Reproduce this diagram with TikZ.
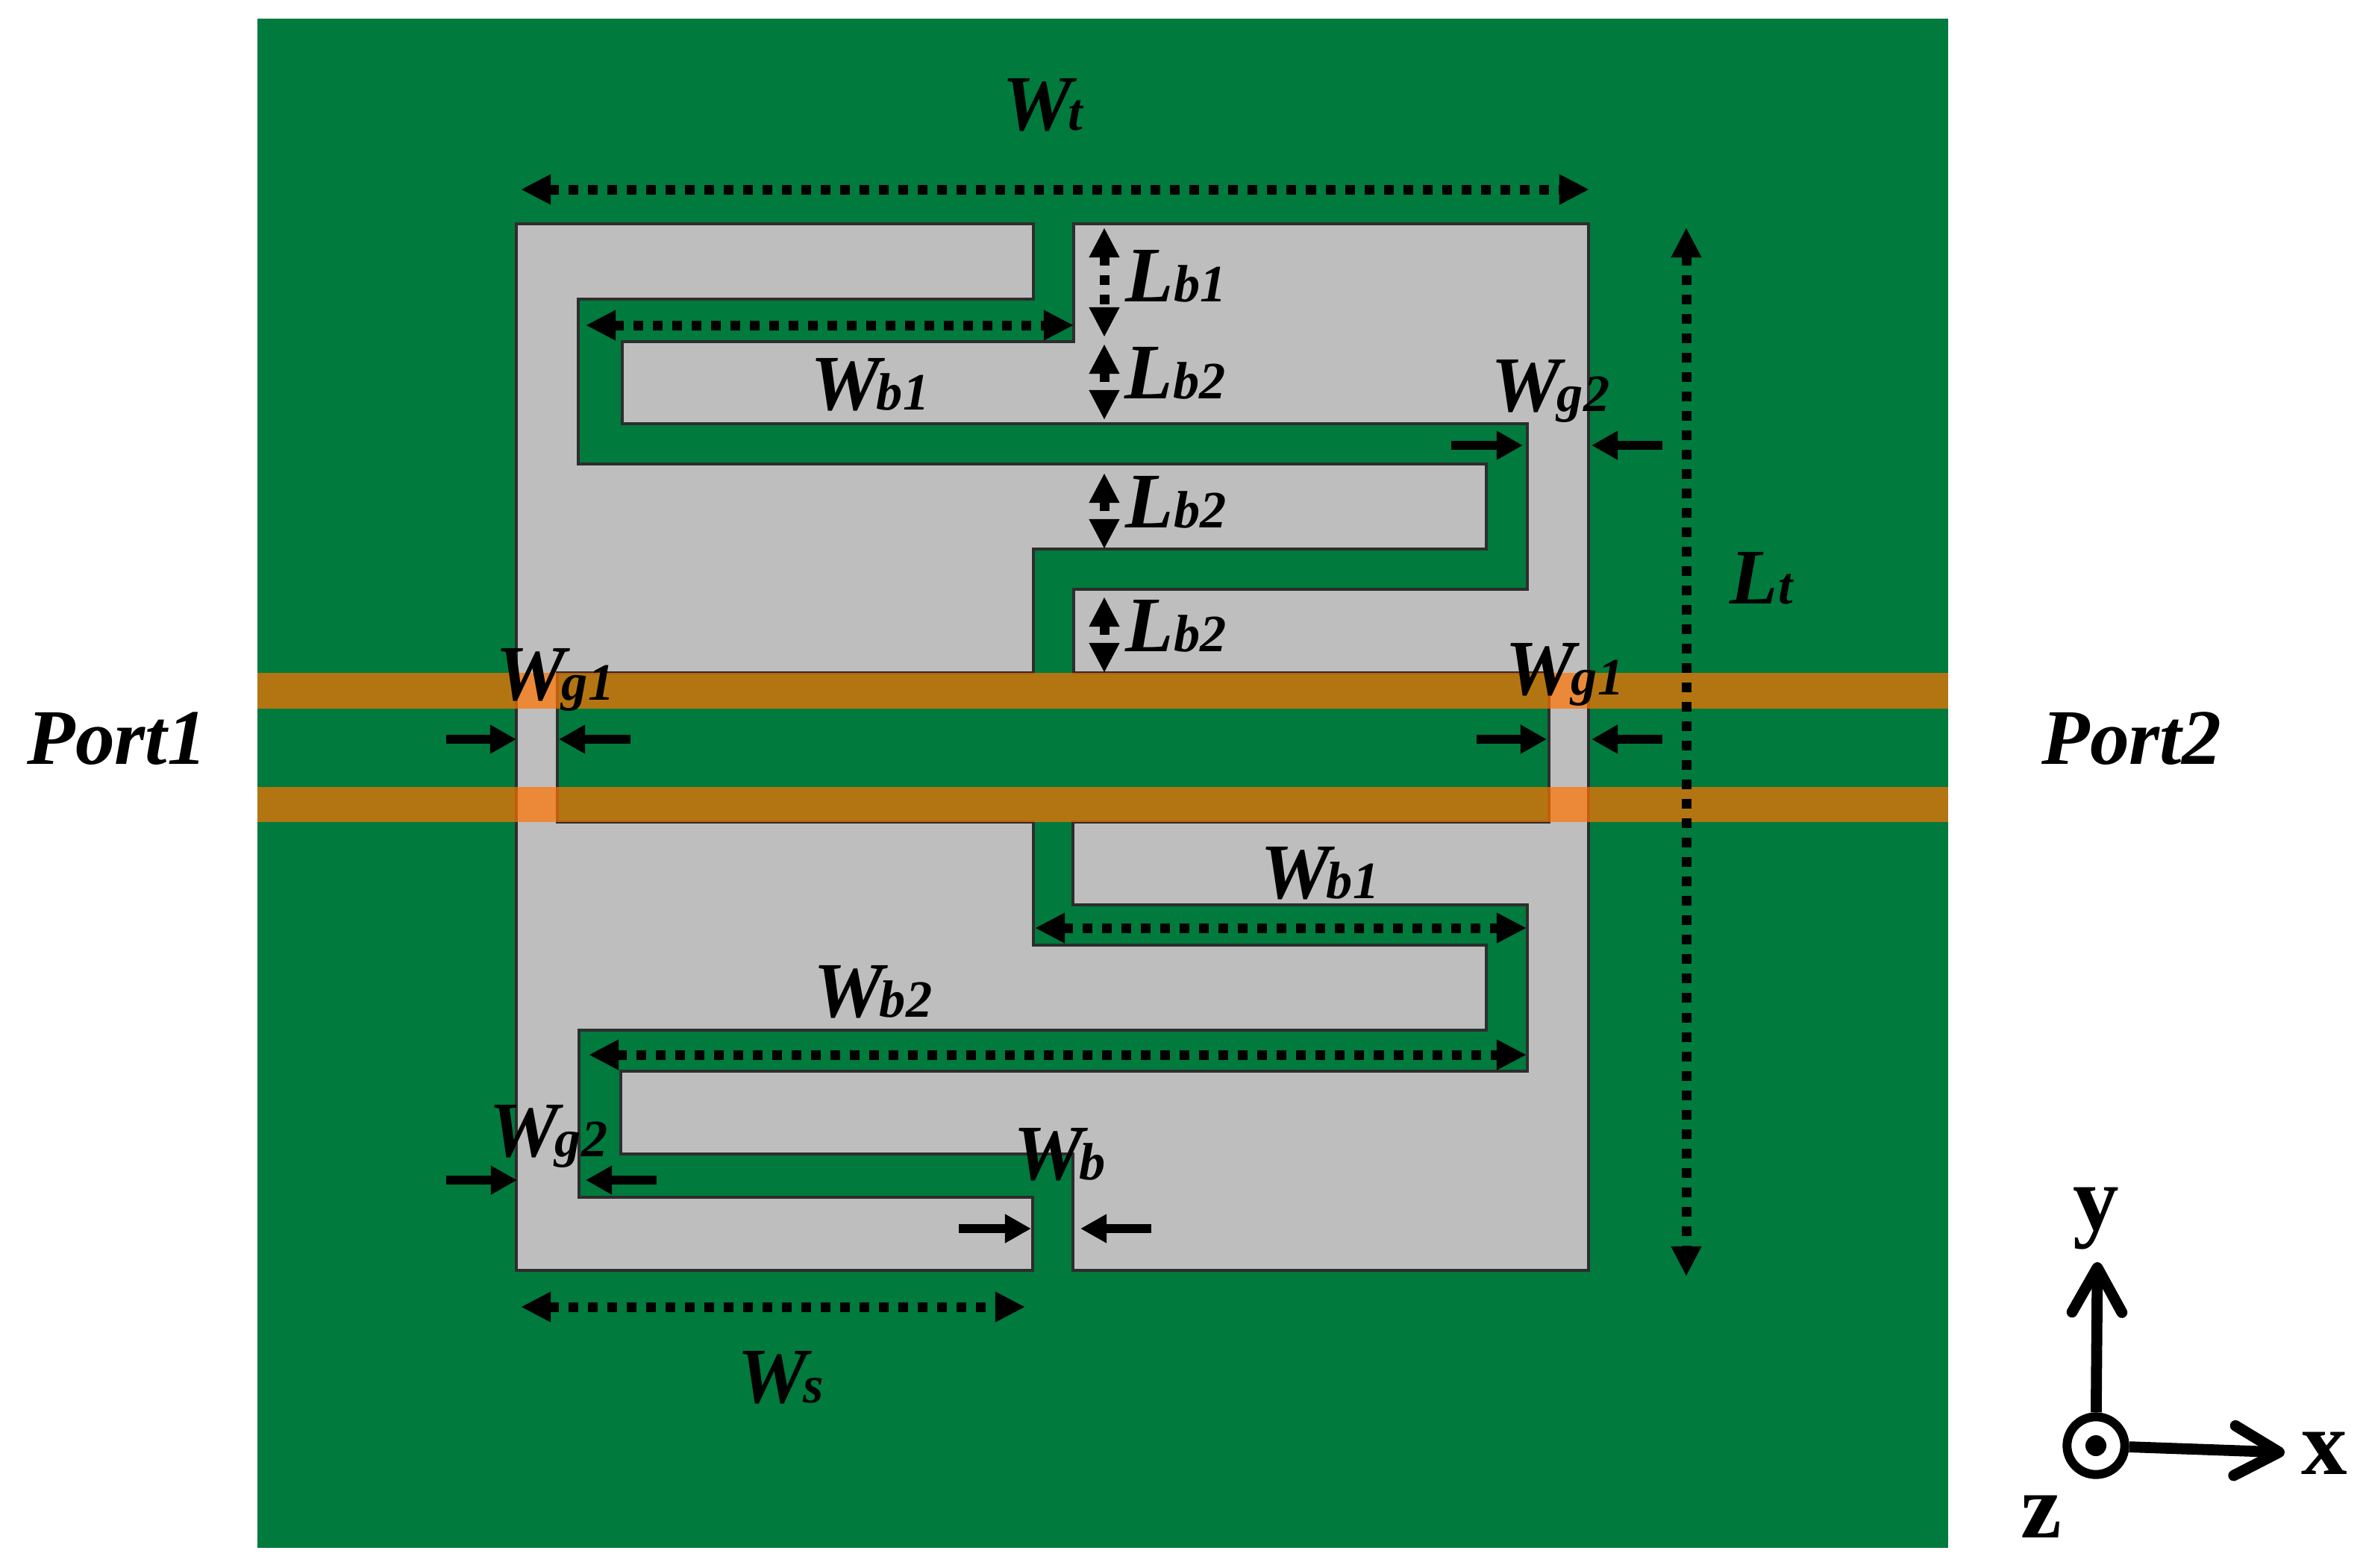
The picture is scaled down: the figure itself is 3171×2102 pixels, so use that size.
\documentclass[tikz,border=0pt]{standalone}
\usepackage{xcolor}
\usepackage{fontspec}
\setmainfont{Liberation Serif}
\usetikzlibrary{arrows.meta}
\definecolor{sub}{RGB}{0, 122, 61}
\definecolor{met}{RGB}{190, 190, 190}
\definecolor{edg}{RGB}{45, 45, 45}
\definecolor{lin}{RGB}{255, 115, 0}
\newcommand{\lab}[2]{#1{\fontsize{20}{24}\selectfont #2}}
\newcommand{\wid}{W\kern-1.6pt}
\tikzset{
  txt/.style={anchor=base west, inner sep=0pt, font=\bfseries\itshape\fontsize{30}{36}\selectfont},
  ax/.style={anchor=base, inner sep=0pt, font=\bfseries\fontsize{35}{42}\selectfont},
  metal/.style={fill=met, draw=edg, line width=1.1pt, line join=miter},
  dots/.style={line width=3.7pt, dash pattern=on 3.7pt off 3.7pt, {Triangle[length=11.4pt,width=10.8pt]}-{Triangle[length=11.4pt,width=10.8pt]}},
  push/.style={line width=3.2pt, -{Triangle[length=10pt,width=10.4pt]}},
  axline/.style={line width=4.2pt, -{Straight Barb[length=17pt,width=19pt,round]}}
}
\begin{document}
\begin{tikzpicture}[x=0.01cm, y=-0.01cm]
      \useasboundingbox (0, 0) rectangle (3171, 2102);
      \fill[color=sub] (345, 25) rectangle (2611, 2075);
      \draw[metal] (692, 300)--(1385, 300)--(1385, 401)--(775, 401)--(775, 622)--(1992, 622)--(1992, 736)--(1385, 736)--(1385, 902)--(747, 902)--(747, 1102)--(1385, 1102)--(1385, 1267)--(1992, 1267)--(1992, 1381)--(776, 1381)--(776, 1605)--(1384, 1605)--(1384, 1703)--(692, 1703)--cycle;
      \draw[metal] (1439, 300)--(2129, 300)--(2129, 1703)--(1438, 1703)--(1438, 1547)--(832, 1547)--(832, 1436)--(2047, 1436)--(2047, 1213)--(1438, 1213)--(1438, 1102)--(2076, 1102)--(2076, 902)--(1439, 902)--(1439, 790)--(2047, 790)--(2047, 568)--(834, 568)--(834, 458)--(1439, 458)--cycle;
      \foreach \ya/\yb in {902/950, 1055/1102}
        \fill[color=lin, fill opacity=0.7] (345, \ya) rectangle (2611, \yb);

      \draw[dots] (698, 254)--(2130, 254);
      \draw[dots] (785, 436)--(1439, 436);
      \draw[dots] (1387, 1244)--(2046, 1244);
      \draw[dots] (789, 1414)--(2046, 1414);
      \draw[dots] (698, 1752)--(1374, 1752);
      \draw[dots] (2260, 305)--(2260, 1711);
      \draw[dots] (1480, 305)--(1480, 452);
      \draw[dots] (1480, 461)--(1480, 563);
      \draw[dots] (1480, 634)--(1480, 736);
      \draw[dots] (1480, 800)--(1480, 902);

      \draw[push] (1945, 597)--(2041, 597);
      \draw[push] (2228, 597)--(2133, 597);
      \draw[push] (1979, 991)--(2073, 991);
      \draw[push] (2228, 991)--(2133, 991);
      \draw[push] (598, 991)--(692, 991);
      \draw[push] (845, 991)--(749, 991);
      \draw[push] (598, 1582)--(693, 1582);
      \draw[push] (880, 1582)--(785, 1582);
      \draw[push] (1285, 1647)--(1382, 1647);
      \draw[push] (1543, 1647)--(1448, 1647);

      \node[txt](wt) at (1343, 174) {\lab{\wid}{t}};
      \node[txt](lt) at (2318, 809) {\lab{L}{t}};
      \node[txt](ws) at (988, 1880) {\lab{\wid}{s}};
      \node[txt](wb) at (1358, 1581) {\lab{\wid}{b}};
      \node[txt](wba) at (1086, 549) {\lab{\wid}{b1}};
      \node[txt](wbb) at (1689, 1204) {\lab{\wid}{b1}};
      \node[txt](wbc) at (1090, 1363) {\lab{\wid}{b2}};
      \node[txt](lba) at (1508, 404) {\lab{L}{b1}};
      \node[txt](lbb) at (1507, 534) {\lab{L}{b2}};
      \node[txt](lbc) at (1508, 707) {\lab{L}{b2}};
      \node[txt](lbd) at (1508, 873) {\lab{L}{b2}};
      \node[txt](wga) at (664, 938) {\lab{\wid}{g1}};
      \node[txt](wgb) at (2017, 931) {\lab{\wid}{g1}};
      \node[txt](wgc) at (1998, 551) {\lab{\wid}{g2}};
      \node[txt](wgd) at (655, 1550) {\lab{\wid}{g2}};
      \node[txt](pa) at (36, 1024) {Port1};
      \node[txt](pb) at (2736, 1024) {Port2};

      \node[circle, draw, line width=3.4pt, minimum size=22pt, inner sep=0pt](o) at (2809, 1938) {};
      \fill (o.center) circle (14);
      \coordinate (ty) at (2811, 1692);
      \coordinate (tx) at (3062, 1947);
      \draw[axline] (o)--(ty);
      \draw[axline] (o)--(tx);
      \node[ax](ly) at (2809, 1648) {y};
      \node[ax](lx) at (3115, 1976) {x};
      \node[ax](lz) at (2736, 2061) {z};
\end{tikzpicture}
\end{document}
